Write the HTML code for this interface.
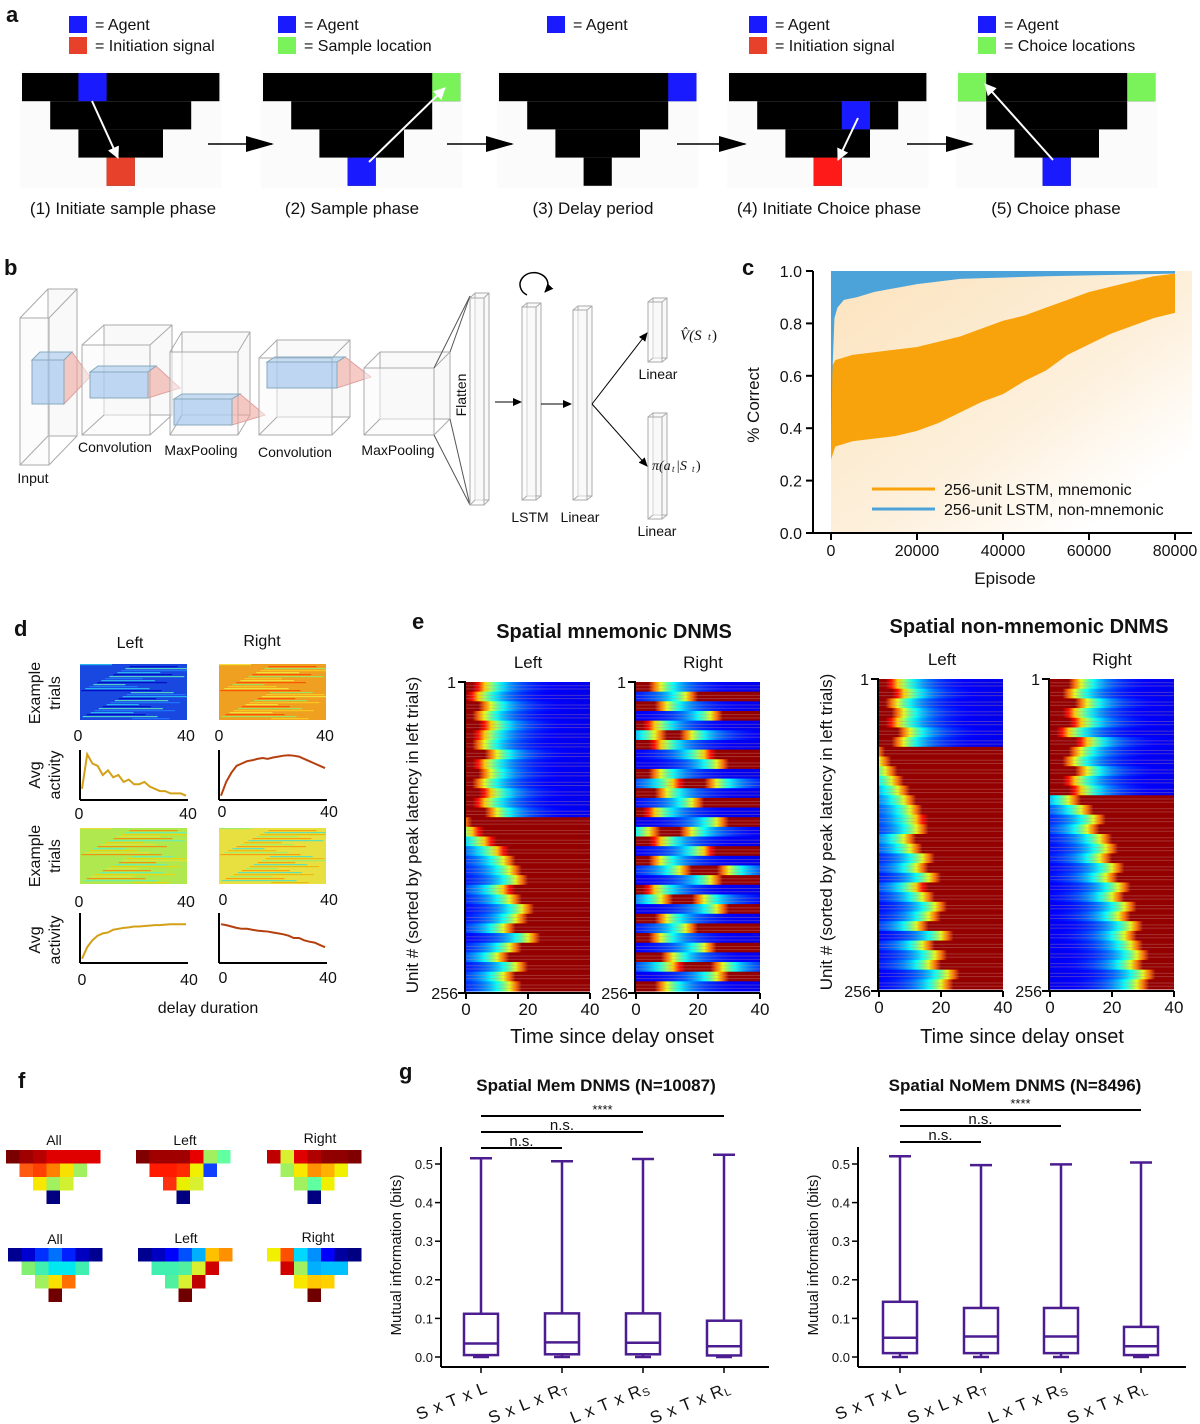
<!DOCTYPE html>
<html><head><meta charset="utf-8"><style>
html,body{margin:0;padding:0;background:#fff;}
svg{display:block;font-family:"Liberation Sans",sans-serif;}
</style></head><body>
<svg id="fig" width="1200" height="1424" viewBox="0 0 1200 1424" xmlns="http://www.w3.org/2000/svg">
<defs>
<marker id="ah" markerWidth="10" markerHeight="10" refX="8" refY="5" orient="auto" markerUnits="userSpaceOnUse"><path d="M0,1 L9,5 L0,9 z" fill="#000"/></marker>
<marker id="ahw" markerWidth="14" markerHeight="14" refX="11" refY="7" orient="auto" markerUnits="userSpaceOnUse"><path d="M0,1 L12,7 L0,13 z" fill="#fff"/></marker>
<marker id="ahb" markerWidth="30" markerHeight="20" refX="26" refY="10" orient="auto" markerUnits="userSpaceOnUse"><path d="M0,2 L28,10 L0,18 z" fill="#000"/></marker>
<linearGradient id="beige" x1="0" y1="0" x2="1" y2="1"><stop offset="0" stop-color="#fbe3bd"/><stop offset="0.55" stop-color="#fdf0dc"/><stop offset="0.85" stop-color="#fff"/></linearGradient>
<clipPath id="clipD1"><rect x="80" y="664" width="107" height="56"/></clipPath>
<clipPath id="clipD2"><rect x="219" y="664" width="107" height="56"/></clipPath>
<clipPath id="clipD3"><rect x="80" y="828" width="107" height="56"/></clipPath>
<clipPath id="clipD4"><rect x="219" y="828" width="107" height="56"/></clipPath>
</defs>
<g id="panelA"></g>
<g id="panelB"></g>
<g id="panelC"></g>
<g id="panelD"></g>
<g id="panelE"></g>
<g id="panelF"></g>
<g id="panelG"></g>
</svg>
<script>
// ---------- data ----------
const cEpisodes=[0,1000,5000,10000,15000,20000,25000,30000,35000,40000,45000,50000,55000,60000,65000,70000,75000,80000];
const cOrangeHigh=[0.63,0.66,0.68,0.69,0.7,0.71,0.73,0.75,0.78,0.81,0.83,0.86,0.89,0.92,0.94,0.96,0.98,0.99];
const cOrangeLow=[0.28,0.33,0.35,0.36,0.37,0.39,0.42,0.46,0.5,0.53,0.58,0.62,0.68,0.72,0.76,0.79,0.82,0.84];
const cBlueEp=[0,300,800,1500,3000,6000,10000,20000,30000,50000,80000];
const cBlueLow=[0.33,0.6,0.82,0.86,0.89,0.9,0.92,0.95,0.97,0.98,0.99];
const cYTicks=[0,0.2,0.4,0.6,0.8,1.0];
const cXTicks=[0,20000,40000,60000,80000];

const dDelay=[0,2,4,6,8,10,12,14,16,18,20,22,24,26,28,30,32,34,36,38,40];
const dLeftTop=[0.2,0.95,0.75,0.7,0.5,0.6,0.45,0.5,0.35,0.4,0.3,0.3,0.35,0.25,0.2,0.15,0.15,0.1,0.1,0.1,0.05];
const dRightTop=[0.05,0.35,0.55,0.7,0.75,0.8,0.82,0.85,0.87,0.85,0.88,0.9,0.92,0.93,0.92,0.9,0.85,0.8,0.75,0.7,0.65];
const dLeftBot=[0.05,0.3,0.45,0.55,0.6,0.62,0.68,0.7,0.72,0.73,0.75,0.75,0.76,0.77,0.78,0.78,0.79,0.8,0.8,0.8,0.8];
const dRightBot=[0.8,0.78,0.75,0.72,0.7,0.7,0.68,0.66,0.65,0.64,0.62,0.6,0.58,0.55,0.5,0.5,0.45,0.42,0.4,0.35,0.3];

const hmMemLStart=[0,0,0,0,0,0,0,0,0,0,0,0,0,0,2,5,9,13,16,18,20,15,18,22,20,16,24,18,14,20,16,18];
const hmMemLEnd=[3,1,4,2,5,3,2,6,3,4,2,5,3,6,40,40,40,40,40,40,40,40,40,40,40,40,40,40,40,40,40,40];
const hmMemRStart=[0,20,0,28,0,10,0,25,30,0,15,0,22,0,30,8,0,25,0,18,28,0,12,30,0,20,0,26,0,15,30,0];
const hmMemREnd=[4,40,6,40,3,14,5,40,40,4,22,6,40,3,40,14,5,40,4,26,40,3,18,40,6,40,4,40,8,24,40,6];
const hmNonLStart=[0,0,0,0,0,0,0,2,4,6,8,10,12,14,15,16,12,14,18,16,20,15,18,22,20,16,24,18,22,20,26,24];
const hmNonLEnd=[3,5,2,4,3,6,4,40,40,40,40,40,40,40,40,40,40,40,40,40,40,40,40,40,40,40,40,40,40,40,40,40];
const hmNonRStart=[0,0,0,0,0,0,0,0,0,0,0,0,10,14,18,16,20,22,20,24,22,26,24,28,26,30,28,30,32,30,34,32];
const hmNonREnd=[6,4,8,5,7,3,9,6,4,8,5,7,40,40,40,40,40,40,40,40,40,40,40,40,40,40,40,40,40,40,40,40];

const fTopAll=["#7a0000","#a00000","#b80000","#e00000","#e00000","#e00000","#e00000","#ff5a10","#ff4000","#ff8000","#f8e000","#a0f060","#f8e800","#a0f060","#d0f030","#000080"];
const fTopLeft=["#800000","#a00000","#a00000","#a00000","#e80000","#a0f060","#60ffa0","#ff1a00","#ff1a00","#ff2a00","#f0f000","#1040ff","#ff3010","#e8f000","#d8f030","#000080"];
const fTopRight=["#c00000","#d8f030","#e00000","#b00000","#900000","#900000","#800000","#a0f060","#f8e800","#ff9000","#ffb000","#f0f000","#a0f060","#60ffa0","#f0f000","#000080"];
const fBotAll=["#000090","#0000d0","#0030ff","#0070ff","#0020ff","#0000c0","#000090","#80f070","#40f0b0","#00e8f0","#00e8f0","#40f0b0","#a0f060","#f8e000","#ff7000","#700000"];
const fBotLeft=["#000090","#0000c0","#0000ff","#0050ff","#00b0ff","#ffc000","#ff9000","#40f0b0","#40f0b0","#50f0a0","#d8f030","#d00000","#50f0a0","#d8f030","#c00000","#700000"];
const fBotRight=["#f0f000","#ff5000","#00d8ff","#0090ff","#0000ff","#0000a0","#000080","#d00000","#a0f060","#00b0ff","#00c0ff","#00c0ff","#f8e800","#ffc800","#ffd000","#700000"];

const gCategories=["SxTxL","SxLxRT","LxTxRS","SxTxRL"];
const gMemQ1=[0.005,0.007,0.007,0.004];
const gMemMed=[0.035,0.038,0.037,0.028];
const gMemQ3=[0.112,0.113,0.113,0.094];
const gMemMax=[0.515,0.507,0.513,0.524];
const gNoMemQ1=[0.01,0.01,0.01,0.005];
const gNoMemMed=[0.05,0.053,0.053,0.028];
const gNoMemQ3=[0.143,0.127,0.127,0.078];
const gNoMemMax=[0.52,0.497,0.499,0.504];
const gYTicks=[0,0.1,0.2,0.3,0.4,0.5];

// ---------- helpers ----------
const NS="http://www.w3.org/2000/svg";
function mk(parent,tag,attrs,text){const e=document.createElementNS(NS,tag);for(const k in attrs)e.setAttribute(k,attrs[k]);if(text!==undefined)e.textContent=text;parent.appendChild(e);return e;}
function txt(p,x,y,s,size,opts){opts=opts||{};const e=mk(p,'text',{x:x,y:y,'font-size':size,fill:opts.fill||'#111','text-anchor':opts.anchor||'start','font-weight':opts.bold?'bold':'normal'},s);if(opts.rot)e.setAttribute('transform','rotate('+opts.rot+' '+x+' '+y+')');if(opts.family)e.setAttribute('font-family',opts.family);if(opts.style)e.setAttribute('font-style',opts.style);return e;}
function jet(v){const st=[[0,0,0,143],[0.125,0,0,255],[0.375,0,255,255],[0.625,255,255,0],[0.875,255,0,0],[1,128,0,0]];v=Math.max(0,Math.min(1,v));for(let i=1;i<st.length;i++){if(v<=st[i][0]){const a=st[i-1],b=st[i],t=(v-a[0])/(b[0]-a[0]);return 'rgb('+Math.round(a[1]+(b[1]-a[1])*t)+','+Math.round(a[2]+(b[2]-a[2])*t)+','+Math.round(a[3]+(b[3]-a[3])*t)+')';}}return 'rgb(128,0,0)';}
const defs=document.querySelector('defs');

// ---------- panel a ----------
const A=document.getElementById('panelA');
txt(A,6,22,'a',22,{bold:true});
const mazeX=[22,263,499,729,958];
const mazeCaps=['(1) Initiate sample phase','(2) Sample phase','(3) Delay period','(4) Initiate Choice phase','(5) Choice phase'];
const capX=[123,352,593,829,1056];
const mazeMarks=[
 [['#1a1aff',2,0],['#e8412b',3,3]],
 [['#7af25a',6,0],['#1a1aff',3,3]],
 [['#1a1aff',6,0]],
 [['#1a1aff',4,1],['#ff1a1a',3,3]],
 [['#7af25a',0,0],['#7af25a',6,0],['#1a1aff',3,3]]];
const legends=[[['#1a1aff','= Agent'],['#e8412b','= Initiation signal']],[['#1a1aff','= Agent'],['#7af25a','= Sample location']],[['#1a1aff','= Agent']],[['#1a1aff','= Agent'],['#e8412b','= Initiation signal']],[['#1a1aff','= Agent'],['#7af25a','= Choice locations']]];
const legX=[69,278,547,749,978];
const cs=28.2;
mazeX.forEach((mx,i)=>{
 const g=mk(A,'g',{});
 
 
 mk(g,'rect',{x:mx-2,y:71,width:cs*7+4,height:cs*4+4,fill:'#fbfbfb'});
 for(let r=0;r<4;r++){const n=7-2*r;mk(g,'rect',{x:mx+r*cs,y:73+r*cs,width:n*cs,height:cs,fill:'#000'});}
 mazeMarks[i].forEach(m=>{mk(g,'rect',{x:mx+m[1]*cs,y:73+m[2]*cs,width:cs,height:cs,fill:m[0]});});
 txt(A,capX[i],214,mazeCaps[i],17,{anchor:'middle'});
 legends[i].forEach((l,j)=>{mk(A,'rect',{x:legX[i],y:16+j*21,width:18,height:17,fill:l[0]});txt(A,legX[i]+26,30+j*21,l[1],16);});
});
[[92,101,118,158],[369,162,445,88],[858,118,838,160],[1053,160,985,84]].forEach(a=>{const l=mk(A,'line',{x1:a[0],y1:a[1],x2:a[2],y2:a[3],stroke:'#fff','stroke-width':2,'marker-end':'url(#ahw)'});});
[[208,272],[447,512],[677,745],[907,972]].forEach(a=>{const l=mk(A,'line',{x1:a[0],y1:144,x2:a[1],y2:144,stroke:'#000','stroke-width':1.5,'marker-end':'url(#ahb)'});});

// ---------- panel b ----------
const B=document.getElementById('panelB');
txt(B,4,275,'b',22,{bold:true});
function box(p,x,y,w,h,dx,dy,name){const g=mk(p,'g',{fill:'none',stroke:'#aaa','stroke-width':1});
 mk(g,'rect',{x:x+dx,y:y+dy,width:w,height:h,fill:'rgba(245,245,245,0.6)'});
 mk(g,'rect',{x:x,y:y,width:w,height:h,fill:'rgba(250,250,250,0.5)'});
 [[x,y],[x+w,y],[x,y+h],[x+w,y+h]].forEach(c=>mk(g,'line',{x1:c[0],y1:c[1],x2:c[0]+dx,y2:c[1]+dy}));return g;}
function prism(p,x,y,w,h,dx,dy,tx,ty){mk(p,'polygon',{points:[x+w,y,x+w+dx,y+dy,tx,ty,x+w,y+h].join(' '),fill:'rgba(240,160,150,0.55)',stroke:'#e0a0a0'});
 mk(p,'rect',{x:x,y:y,width:w,height:h,fill:'rgba(150,190,235,0.6)',stroke:'#8ab'});mk(p,'polygon',{points:[x,y,x+dx,y+dy,x+w+dx,y+dy,x+w,y].join(' '),fill:'rgba(150,190,235,0.5)',stroke:'#8ab'});}
box(B,20,318,29,147,28,-29,'input-layer');
prism(B,32,360,32,44,8,-8,90,377);
box(B,82,345,68,90,22,-20,'conv1-layer');
prism(B,90,372,58,26,8,-6,180,388);
box(B,170,352,68,83,12,-20,'maxpool1-layer');
prism(B,174,399,58,26,8,-5,265,415);
box(B,259,358,73,77,18,-18,'conv2-layer');
prism(B,267,362,70,26,8,-5,371,377);
box(B,364,368,70,67,16,-16,'maxpool2-layer');
mk(B,'line',{x1:450,y1:352,x2:470,y2:296,stroke:'#555'});mk(B,'line',{x1:434,y1:435,x2:470,y2:505,stroke:'#555'});
mk(B,'line',{x1:434,y1:368,x2:470,y2:296,stroke:'#555'});mk(B,'line',{x1:450,y1:419,x2:470,y2:505,stroke:'#555'});
box(B,470,298,14,207,5,-5,'flatten-layer');
box(B,522,307,14,193,5,-4,'lstm-layer');
box(B,573,310,14,190,5,-4,'linear-layer');
box(B,648,302,14,60,5,-4,'value-layer');
box(B,648,417,14,102,5,-4,'policy-layer');
mk(B,'line',{x1:495,y1:402,x2:521,y2:402,stroke:'#000','marker-end':'url(#ah)'});
mk(B,'line',{x1:541,y1:404,x2:571,y2:404,stroke:'#000','marker-end':'url(#ah)'});
mk(B,'line',{x1:592,y1:404,x2:647,y2:333,stroke:'#000','marker-end':'url(#ah)'});
mk(B,'line',{x1:592,y1:404,x2:647,y2:466,stroke:'#000','marker-end':'url(#ah)'});
mk(B,'path',{d:'M527,295 A14,12 0 1 1 545,292',fill:'none',stroke:'#000','stroke-width':1.5,'marker-end':'url(#ah)'});
txt(B,115,452,'Convolution',14,{anchor:'middle'});txt(B,201,455,'MaxPooling',14,{anchor:'middle'});
txt(B,295,457,'Convolution',14,{anchor:'middle'});txt(B,398,455,'MaxPooling',14,{anchor:'middle'});
txt(B,33,483,'Input',14,{anchor:'middle'});txt(B,466,395,'Flatten',14,{anchor:'middle',rot:-90});
txt(B,530,522,'LSTM',14,{anchor:'middle'});txt(B,580,522,'Linear',14,{anchor:'middle'});
txt(B,658,379,'Linear',14,{anchor:'middle'});txt(B,657,536,'Linear',14,{anchor:'middle'});
txt(B,680,340,'V̂(S',15,{family:'Liberation Serif',style:'italic'});txt(B,708,340,'t',10,{family:'Liberation Serif',style:'italic'});txt(B,712,340,')',15,{family:'Liberation Serif'});
txt(B,652,470,'π(a',14,{family:'Liberation Serif',style:'italic'});txt(B,672,472,'t',9,{family:'Liberation Serif',style:'italic'});txt(B,676,470,'|S',14,{family:'Liberation Serif',style:'italic'});txt(B,692,472,'t',9,{family:'Liberation Serif',style:'italic'});txt(B,696,470,')',14,{family:'Liberation Serif'});

// ---------- panel c ----------
const C=document.getElementById('panelC');
txt(C,742,275,'c',22,{bold:true});
const cx=v=>831+v/80000*344, cy=v=>533-v*262;
mk(C,'rect',{x:cx(0),y:cy(1),width:1192-cx(0),height:cy(0)-cy(1),fill:'url(#beige)'});
let oPts=cEpisodes.map((e,i)=>cx(e)+','+cy(cOrangeHigh[i])).concat(cEpisodes.slice().reverse().map((e,i)=>cx(e)+','+cy(cOrangeLow[cEpisodes.length-1-i])));
const oband=mk(C,'polygon',{points:oPts.join(' '),fill:'#f9a30c'});


let bPts=cBlueEp.map(e=>cx(e)+','+cy(1)).concat(cBlueEp.slice().reverse().map((e,i)=>cx(e)+','+cy(cBlueLow[cBlueEp.length-1-i])));
const bband=mk(C,'polygon',{points:bPts.join(' '),fill:'#4ba3d9'});


mk(C,'line',{x1:813,y1:cy(1),x2:813,y2:cy(0),stroke:'#000','stroke-width':2});
mk(C,'line',{x1:813,y1:cy(0),x2:1192,y2:cy(0),stroke:'#000','stroke-width':2});
cYTicks.forEach(t=>{mk(C,'line',{x1:806,y1:cy(t),x2:813,y2:cy(t),stroke:'#000','stroke-width':2});txt(C,802,cy(t)+6,t.toFixed(1),16,{anchor:'end'});});
cXTicks.forEach(t=>{mk(C,'line',{x1:cx(t),y1:cy(0),x2:cx(t),y2:cy(0)+7,stroke:'#000','stroke-width':2});txt(C,cx(t),556,String(t),16,{anchor:'middle'});});
txt(C,1005,584,'Episode',17,{anchor:'middle'});
txt(C,759,405,'% Correct',17,{anchor:'middle',rot:-90});
mk(C,'line',{x1:872,y1:489,x2:935,y2:489,stroke:'#f9a30c','stroke-width':3});txt(C,944,495,'256-unit LSTM, mnemonic',16);
mk(C,'line',{x1:872,y1:509,x2:935,y2:509,stroke:'#4ba3d9','stroke-width':3});txt(C,944,515,'256-unit LSTM, non-mnemonic',16);

// ---------- panel d ----------
const D=document.getElementById('panelD');
txt(D,14,636,'d',22,{bold:true});
txt(D,130,648,'Left',16,{anchor:'middle'});txt(D,262,646,'Right',16,{anchor:'middle'});
function smallHeat(x,y,w,h,bg,stripes,name,clip){const g=mk(D,'g',{'clip-path':'url(#'+clip+')'});mk(g,'rect',{x:x,y:y,width:w,height:h,fill:bg});
 for(let i=0;i<28;i++){const c=stripes[i%stripes.length];mk(g,'rect',{x:x+((i*37)%40)/40*w*0.5,y:y+i*h/28,width:w*(0.3+((i*13)%10)/20),height:h/28*0.6,fill:c,opacity:0.8});}}
smallHeat(80,664,107,56,'#1848e0',['#30d0f0','#0000c0','#60f0c0','#2080ff'],'example-trials-left-top','clipD1');
smallHeat(219,664,107,56,'#f0a020',['#f0f040','#ff4000','#90f070','#ffd020'],'example-trials-right-top','clipD2');
smallHeat(80,828,107,56,'#b0e850',['#f0e030','#ff8000','#60f0c0','#f8d000'],'example-trials-left-bottom','clipD3');
smallHeat(219,828,107,56,'#e8e040',['#90f070','#ff9000','#40e0d0','#f0b000'],'example-trials-right-bottom','clipD4');
function linePlot(x0,yb,vals,color,name){const w=108,h=50;mk(D,'line',{x1:x0,y1:yb-h,x2:x0,y2:yb,stroke:'#000','stroke-width':2});mk(D,'line',{x1:x0,y1:yb,x2:x0+w,y2:yb,stroke:'#000','stroke-width':2});
 const p=mk(D,'polyline',{points:vals.map((v,i)=>(x0+2+dDelay[i]/40*(w-4))+','+(yb-2-v*(h-4))).join(' '),fill:'none',stroke:color,'stroke-width':2});}
linePlot(80,800,dLeftTop,'#d4a017','avg-activity-left-top');
linePlot(219,800,dRightTop,'#b5400e','avg-activity-right-top');
linePlot(80,963,dLeftBot,'#d4a017','avg-activity-left-bottom');
linePlot(219,963,dRightBot,'#b5400e','avg-activity-right-bottom');
[[78,741],[186,741],[219,741],[325,741],[79,819],[188,819],[222,817],[329,817],[79,907],[186,907],[223,905],[329,905],[82,985],[189,985],[223,983],[328,983]].forEach((p,i)=>txt(D,p[0],p[1],i%2?'40':'0',16,{anchor:'middle'}));
[[693,'Example','trials'],[775,'Avg','activity'],[856,'Example','trials'],[940,'Avg','activity']].forEach(a=>{txt(D,40,a[0],a[1],16,{anchor:'middle',rot:-90});txt(D,60,a[0],a[2],16,{anchor:'middle',rot:-90});});
txt(D,208,1013,'delay duration',16,{anchor:'middle'});

// ---------- panel e ----------
const E=document.getElementById('panelE');
txt(E,412,629,'e',22,{bold:true});
let gid=0;
function heat(x,y,w,h,starts,ends,name){const g=mk(E,'g',{});
 const n=starts.length,rh=h/n;
 for(let i=0;i<n;i++){const id='hg'+(gid++);const lg=mk(defs,'linearGradient',{id:id,x1:0,y1:0,x2:1,y2:0});
  for(let t=0;t<=40;t+=2){const s=starts[i],e=ends[i];const d=t<s?s-t:(t>e?t-e:0);const v=Math.exp(-d/7);mk(lg,'stop',{offset:t/40,'stop-color':jet(0.1+0.88*v)});}
  const r=mk(g,'rect',{x:x,y:y+i*rh,width:w,height:rh+0.5,fill:'url(#'+id+')'});
  
  for(let k=1;k<3;k++)mk(g,'rect',{x:x,y:y+i*rh+k*rh/3,width:w,height:1,fill:'#c89090',opacity:0.35});}
 mk(g,'line',{x1:x-1,y1:y,x2:x-1,y2:y+h+2,stroke:'#000','stroke-width':2});
 mk(g,'line',{x1:x-1,y1:y+h+2,x2:x+w,y2:y+h+2,stroke:'#000','stroke-width':2});
 [0,20,40].forEach(t=>{const tx=x+t/40*w;mk(g,'line',{x1:tx,y1:y+h+2,x2:tx,y2:y+h+8,stroke:'#000','stroke-width':2});txt(g,tx,y+h+24,String(t),17,{anchor:'middle'});});
 mk(g,'line',{x1:x-8,y1:y,x2:x,y2:y,stroke:'#000','stroke-width':2});mk(g,'line',{x1:x-8,y1:y+h+2,x2:x,y2:y+h+2,stroke:'#000','stroke-width':2});
 txt(g,x-10,y+6,'1',16,{anchor:'end'});txt(g,x-8,y+h+8,'256',16,{anchor:'end'});}
heat(466,682,124,309,hmMemLStart,hmMemLEnd,'heatmap-mnemonic-left');
heat(636,682,124,309,hmMemRStart,hmMemREnd,'heatmap-mnemonic-right');
heat(879,679,124,310,hmNonLStart,hmNonLEnd,'heatmap-nonmnemonic-left');
heat(1050,679,124,310,hmNonRStart,hmNonREnd,'heatmap-nonmnemonic-right');
txt(E,614,638,'Spatial mnemonic DNMS',20,{anchor:'middle',bold:true});
txt(E,1029,633,'Spatial non-mnemonic DNMS',20,{anchor:'middle',bold:true});
txt(E,528,668,'Left',17,{anchor:'middle'});txt(E,703,668,'Right',17,{anchor:'middle'});
txt(E,942,665,'Left',17,{anchor:'middle'});txt(E,1112,665,'Right',17,{anchor:'middle'});
txt(E,612,1043,'Time since delay onset',20,{anchor:'middle'});
txt(E,1022,1043,'Time since delay onset',20,{anchor:'middle'});
txt(E,418,835,'Unit # (sorted by peak latency in left trials)',17,{anchor:'middle',rot:-90});
txt(E,832,832,'Unit # (sorted by peak latency in left trials)',17,{anchor:'middle',rot:-90});

// ---------- panel f ----------
const F=document.getElementById('panelF');
txt(F,18,1088,'f',22,{bold:true});
function fmaze(x,y,cols,name){const g=mk(F,'g',{});const c=13.5;let k=0;
 for(let r=0;r<4;r++){const n=7-2*r;for(let j=0;j<n;j++){mk(g,'rect',{x:x+(r+j)*c,y:y+r*c,width:c,height:c,fill:cols[k++]});}}}
fmaze(6,1150,fTopAll,'map-all-top');fmaze(136,1150,fTopLeft,'map-left-top');fmaze(267,1150,fTopRight,'map-right-top');
fmaze(8,1248,fBotAll,'map-all-bottom');fmaze(138,1248,fBotLeft,'map-left-bottom');fmaze(267,1248,fBotRight,'map-right-bottom');
txt(F,54,1145,'All',14,{anchor:'middle'});txt(F,185,1145,'Left',14,{anchor:'middle'});txt(F,320,1143,'Right',14,{anchor:'middle'});
txt(F,55,1244,'All',14,{anchor:'middle'});txt(F,186,1243,'Left',14,{anchor:'middle'});txt(F,318,1242,'Right',14,{anchor:'middle'});

// ---------- panel g ----------
const G=document.getElementById('panelG');
txt(G,399,1079,'g',22,{bold:true});
const subs={"SxTxL":["S x T x L",""],"SxLxRT":["S x L x R","T"],"LxTxRS":["L x T x R","S"],"SxTxRL":["S x T x R","L"]};
function boxPanel(ax,centers,q1,med,q3,mx,title,tx,sig,name){const g=mk(G,'g',{});
 const y=v=>1357-v*386;
 mk(g,'line',{x1:ax,y1:1147,x2:ax,y2:1367,stroke:'#000','stroke-width':2});
 mk(g,'line',{x1:ax,y1:1367,x2:ax+328,y2:1367,stroke:'#000','stroke-width':2});
 gYTicks.forEach(t=>{mk(g,'line',{x1:ax-6,y1:y(t),x2:ax,y2:y(t),stroke:'#000','stroke-width':1.5});txt(g,ax-8,y(t)+5,t.toFixed(1),13,{anchor:'end'});});
 centers.forEach((c,i)=>{const col='#4b1d91';const bg=mk(g,'g',{stroke:col,'stroke-width':2.5,fill:'none'});
  mk(bg,'line',{x1:c,y1:y(mx[i]),x2:c,y2:y(q3[i])});mk(bg,'line',{x1:c-11,y1:y(mx[i]),x2:c+11,y2:y(mx[i])});
  mk(bg,'rect',{x:c-17,y:y(q3[i]),width:34,height:y(q1[i])-y(q3[i])});mk(bg,'line',{x1:c-17,y1:y(med[i]),x2:c+17,y2:y(med[i])});
  mk(bg,'line',{x1:c,y1:y(q1[i]),x2:c,y2:y(0)});mk(bg,'line',{x1:c-8,y1:y(0),x2:c+8,y2:y(0)});
  mk(g,'line',{x1:c,y1:1367,x2:c,y2:1373,stroke:'#000','stroke-width':1.5});
  const s=subs[gCategories[i]];const t=txt(g,c+8,1392,'',17,{anchor:'end',rot:-22});t.setAttribute('letter-spacing','1');mk(t,'tspan',{},s[0]);if(s[1])mk(t,'tspan',{'font-size':11,dy:2},s[1]);});
 txt(g,tx,1091,title,17,{anchor:'middle',bold:true});
 sig.forEach(s=>{mk(g,'line',{x1:centers[0],y1:s[0],x2:centers[s[1]],y2:s[0],stroke:'#000','stroke-width':2});txt(g,(centers[0]+centers[s[1]])/2,s[0]-2,s[2],s[2]==='****'?13:15,{anchor:'middle'});});
 txt(g,ax-40,1255,'Mutual information (bits)',15,{anchor:'middle',rot:-90});}
boxPanel(441,[481,562,643,724],gMemQ1,gMemMed,gMemQ3,gMemMax,'Spatial Mem DNMS (N=10087)',596,[[1148,1,'n.s.'],[1132,2,'n.s.'],[1116,3,'****']],'boxplot-mem');
boxPanel(858,[900,981,1061,1141],gNoMemQ1,gNoMemMed,gNoMemQ3,gNoMemMax,'Spatial NoMem DNMS (N=8496)',1015,[[1142,1,'n.s.'],[1126,2,'n.s.'],[1110,3,'****']],'boxplot-nomem');
</script>
</body></html>
